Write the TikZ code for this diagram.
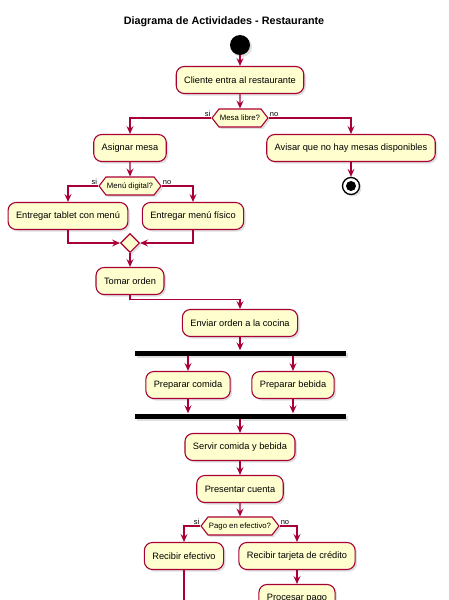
\documentclass[tikz,border=0pt]{standalone}
\usepackage{fontspec}
\setmainfont{Liberation Sans}
\usetikzlibrary{arrows.meta,shapes.geometric,shapes.symbols,shadows,positioning}
\definecolor{umlfill}{HTML}{FEFECE}
\definecolor{umlline}{HTML}{A80036}
\tikzset{
 act shadow/.style={drop shadow={opacity=.25,shadow xshift=2pt,shadow yshift=-2pt}},
 act node/.style={rounded corners=8pt,draw=umlline,fill=umlfill,line width=1.1pt,
                  minimum height=27pt,inner xsep=8pt,
                  font=\fontsize{9.25}{11}\selectfont,act shadow},
 act choice/.style={shape=signal,signal to=west and east,signal pointer angle=105,
                    draw=umlline,fill=umlfill,line width=1.1pt,minimum height=18pt,
                    inner xsep=1pt,inner ysep=1pt,
                    font=\fontsize{7.75}{9}\selectfont,act shadow},
 act merge/.style={diamond,draw=umlline,fill=umlfill,line width=1.1pt,
                   minimum size=19pt,inner sep=0pt,act shadow},
 act bar/.style={fill=black,minimum width=211pt,minimum height=5pt,inner sep=0pt,act shadow},
 act start/.style={circle,fill=black,minimum size=20pt,inner sep=0pt,act shadow},
 act end/.style={circle,draw=black,fill=white,line width=1.3pt,minimum size=17pt,
                 inner sep=0pt,act shadow,
                 path picture={\fill[black] (path picture bounding box.center) circle (5pt);}},
 act line/.style={draw=umlline,line width=1.1pt},
 act flow/.style={act line,-{Stealth[length=8pt,width=7pt,inset=3pt]}},
 act guard/.style={font=\fontsize{7.5}{8}\selectfont,inner sep=1pt}
}

\begin{document}
\begin{tikzpicture}[x=1pt,y=-1pt]
 \clip (0,0) rectangle (448,600);
 \node[font=\bfseries\fontsize{10.8}{12}\selectfont] (title) at (224,22)
   {Diagrama de Actividades - Restaurante};
 % inicio y mesa
 \node[act start] (start) at (240,45) {};
 \node[act node] (cliente) at (240,80) {Cliente entra al restaurante};
 \node[act choice] (mesa) at (240,118) {Mesa libre?};
 \node[act node] (asignar) at (130,148) {Asignar mesa};
 \node[act node] (avisar) at (351,148) {Avisar que no hay mesas disponibles};
 \node[act end] (fin) at (351,186) {};
 % menu
 \node[act choice] (menu) at (130,186) {Menú digital?};
 \node[act node] (tablet) at (68,216) {Entregar tablet con menú};
 \node[act node] (fisico) at (193,216) {Entregar menú físico};
 \node[act merge] (merge) at (130,243) {};
 \node[act node] (tomar) at (130,281) {Tomar orden};
 % cocina
 \node[act node] (enviar) at (240,323) {Enviar orden a la cocina};
 \node[act bar] (fork1) at (240,353) {};
 \node[act node] (comida) at (188,385) {Preparar comida};
 \node[act node] (bebida) at (293,385) {Preparar bebida};
 \node[act bar] (fork2) at (240,416) {};
 \node[act node] (servir) at (240,447) {Servir comida y bebida};
 \node[act node] (cuenta) at (240,489) {Presentar cuenta};
 % pago
 \node[act choice] (pago) at (240,526) {Pago en efectivo?};
 \node[act node] (efectivo) at (184,556) {Recibir efectivo};
 \node[act node] (tarjeta) at (297,556) {Recibir tarjeta de crédito};
 \node[act node] (procesar) at (297,598) {Procesar pago};
 \coordinate (corte) at (184,600);

 \foreach \c in {mesa,menu,pago}{
   \node[act guard,anchor=south east] at (\c.west) {si};
   \node[act guard,anchor=south west] at (\c.east) {no};
 }

 \draw[act flow] (start) -- (cliente);
 \draw[act flow] (cliente) -- (mesa);
 \draw[act flow] (mesa.west) -| (asignar.north);
 \draw[act flow] (mesa.east) -| (avisar.north);
 \draw[act flow] (avisar) -- (fin);
 \draw[act flow] (asignar) -- (menu);
 \draw[act flow] (menu.west) -| (tablet.north);
 \draw[act flow] (menu.east) -| (fisico.north);
 \draw[act flow] (tablet.south) |- (merge.west);
 \draw[act flow] (fisico.south) |- (merge.east);
 \draw[act flow] (merge) -- (tomar);
 \draw[act flow] (tomar.south) -- ++(0,4) -| (enviar.north);
 \draw[act flow] (enviar) -- (fork1);
 \foreach \p in {comida,bebida}{
   \draw[act flow] (fork1.south -| \p.north) -- (\p.north);
   \draw[act flow] (\p.south) -- (\p.south |- fork2.north);
 }
 \draw[act flow] (fork2) -- (servir);
 \draw[act flow] (servir) -- (cuenta);
 \draw[act flow] (cuenta) -- (pago);
 \draw[act flow] (pago.west) -| (efectivo.north);
 \draw[act flow] (pago.east) -| (tarjeta.north);
 \draw[act flow] (tarjeta) -- (procesar);
 \draw[act line] (efectivo.south) -- (corte);
\end{tikzpicture}
\end{document}
